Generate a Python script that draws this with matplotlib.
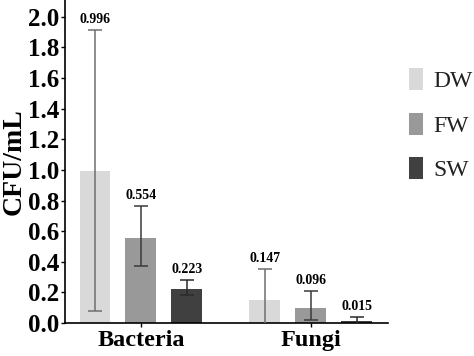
import numpy as np
import matplotlib.pyplot as plt
from matplotlib.patches import Patch

groups = ["Bacteria", "Fungi"]
series = ["DW", "FW", "SW"]
means = {"DW": [0.996, 0.147], "FW": [0.554, 0.096], "SW": [0.223, 0.015]}
err_low = {"DW": [0.915, 0.206], "FW": [0.181, 0.078], "SW": [0.042, 0.026]}
err_high = {"DW": [0.917, 0.206], "FW": [0.211, 0.115], "SW": [0.056, 0.026]}
labels = {"DW": ["0.996", "0.147"], "FW": ["0.554", "0.096"], "SW": ["0.223", "0.015"]}

colors = {"DW": "#d9d9d9", "FW": "#999999", "SW": "#404040"}
ecolors = {"DW": "#6e6e6e", "FW": "#3a3a3a", "SW": "#2a2a2a"}

plt.rcParams["font.family"] = ["Liberation Serif", "DejaVu Serif"]

fig = plt.figure(figsize=(4.74, 3.56), dpi=100)
ax = fig.add_axes([0.137, 0.0927, 0.681, 0.9073])

x = np.arange(len(groups))
offsets = [-0.27, 0.0, 0.27]
width = 0.182

for s, off in zip(series, offsets):
    m = np.array(means[s])
    lo = np.array(err_low[s])
    hi = np.array(err_high[s])
    ax.bar(x + off, m, width, color=colors[s], zorder=2)
    ax.errorbar(x + off, m, yerr=[lo, hi], fmt="none", ecolor=ecolors[s],
                elinewidth=1.1, capsize=4.8, capthick=1.1, zorder=3)
    for xi, top, lab in zip(x + off, m + hi, labels[s]):
        ax.text(xi, top + 0.025, lab, ha="center", va="bottom",
                fontsize=10, fontweight="bold")

ax.set_xlim(-0.447, 1.453)
ax.set_ylim(0, 2.11)
ax.set_yticks(np.arange(0, 2.01, 0.2))
ax.set_yticklabels(["%.1f" % v for v in np.arange(0, 2.01, 0.2)])
ax.set_xticks(x)
ax.set_xticklabels(groups)

for lab in ax.get_yticklabels():
    lab.set_fontweight("bold")
    lab.set_fontsize(18)
for lab in ax.get_xticklabels():
    lab.set_fontweight("bold")
    lab.set_fontsize(17.5)
ax.tick_params(axis="both", length=3, width=1, pad=1)
ax.tick_params(axis="x", pad=2)

ax.set_ylabel("CFU/mL", fontsize=20, fontweight="bold", labelpad=1)

ax.spines["top"].set_visible(False)
ax.spines["right"].set_visible(False)
ax.spines["left"].set_linewidth(1.2)
ax.spines["bottom"].set_linewidth(1.2)

handles = [Patch(facecolor=colors[s], edgecolor="none") for s in series]
leg = fig.legend(handles, series, loc="upper left",
                 bbox_to_anchor=(409 / 474, 1 - 68 / 356),
                 frameon=False, fontsize=17, handlelength=0.59,
                 handleheight=1.08, labelspacing=0.86, handletextpad=0.45,
                 borderpad=0, borderaxespad=0)
for t in leg.get_texts():
    t.set_color("#222222")

fig.savefig("out.png", dpi=100)
